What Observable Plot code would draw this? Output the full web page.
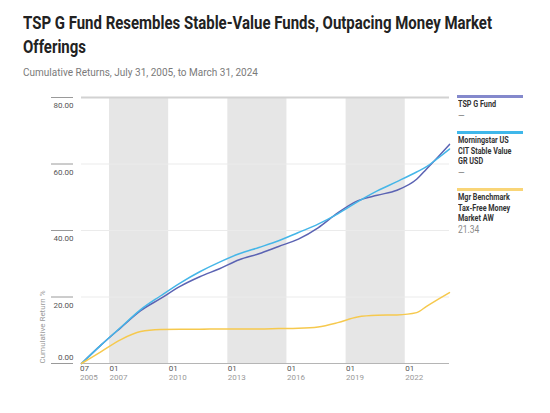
<!DOCTYPE html>
<html>
<head>
<meta charset="utf-8">
<script src="https://cdn.jsdelivr.net/npm/d3@7"></script>
<script src="https://cdn.jsdelivr.net/npm/@observablehq/plot@0.6"></script>
<style>
  html, body { margin: 0; padding: 0; background: #fff; }
  #wrap { position: relative; width: 550px; height: 413px; overflow: hidden; font-family: Roboto, "Liberation Sans", sans-serif; }
  .fit { position: absolute; white-space: nowrap; transform-origin: 0 0; }
  .t { left: 23px; font-size: 18.5px; font-weight: bold; color: #222; line-height: 20px; }
  .s { left: 23px; font-size: 11.5px; color: #7a7a7a; line-height: 14px; }
  #chart { position: absolute; left: 0; top: 85px; }
  .lg { left: 458px; font-size: 8.6px; font-weight: bold; color: #333; line-height: 10px; }
  .bar { position: absolute; left: 457px; width: 66px; height: 2.5px; }
  .val { left: 458px; font-size: 10px; color: #8a8a8a; line-height: 11px; }
</style>
</head>
<body>
<div id="wrap">
  <div class="fit t" id="t1" style="top:13px">TSP G Fund Resembles Stable-Value Funds, Outpacing Money Market</div>
  <div class="fit t" id="t2" style="top:37px">Offerings</div>
  <div class="fit s" id="sub" style="top:65px">Cumulative Returns, July 31, 2005, to March 31, 2024</div>
  <div id="chart"></div>
  <div id="legend"></div>
</div>
<script>
// ---- data ----
const dates = ["2005-07-31","2006-07-31","2007-07-31","2008-07-31","2009-07-31","2010-07-31","2011-07-31","2012-07-31","2013-07-31","2014-07-31","2015-07-31","2016-07-31","2017-07-31","2018-07-31","2019-07-31","2020-07-31","2021-07-31","2022-07-31","2023-01-31","2023-07-31","2024-03-31"];
const tspGFund    = [0, 5.6, 10.8, 15.9, 19.5, 23.2, 26.1, 28.5, 31.2, 33.0, 35.2, 37.4, 40.8, 45.3, 48.9, 50.6, 52.1, 55.4, 58.5, 61.6, 65.9];
const stableValue = [0, 5.6, 10.9, 16.2, 20.3, 24.2, 27.6, 30.5, 33.0, 34.9, 36.9, 39.4, 41.9, 45.0, 48.6, 51.9, 54.7, 57.6, 59.2, 61.4, 64.5];
const moneyMarket = [0, 3.6, 7.2, 9.6, 10.2, 10.3, 10.3, 10.4, 10.4, 10.4, 10.5, 10.6, 11.0, 12.3, 14.0, 14.5, 14.6, 15.3, 17.2, 19.0, 21.34];
const seriesNames = ["TSP G Fund", "Morningstar US CIT Stable Value GR USD", "Mgr Benchmark Tax-Free Money Market AW"];
const seriesColors = ["#5b63b3", "#45b6e8", "#f6c94e"];
const legendColors = ["#8489cc", "#3fb7ea", "#f9d577"];
const legendLines = [["TSP G Fund"], ["Morningstar US", "CIT Stable Value", "GR USD"], ["Mgr Benchmark", "Tax-Free Money", "Market AW"]];
const legendValues = ["—", "—", "21.34"];
const yTicks = [0, 20, 40, 60, 80];
const xTickDates = ["2005-07-01","2007-01-01","2010-01-01","2013-01-01","2016-01-01","2019-01-01","2022-01-01"];
const xTickMonths = ["07","01","01","01","01","01","01"];
const xTickYears = ["2005","2007","2010","2013","2016","2019","2022"];
const bandStarts = ["2007-01-01","2013-01-01","2019-01-01"];
const bandEnds   = ["2010-01-01","2016-01-01","2022-01-01"];

const parse = d3.utcParse("%Y-%m-%d");
const rows = [];
[tspGFund, stableValue, moneyMarket].forEach((vals, si) => {
  vals.forEach((v, i) => rows.push({date: parse(dates[i]), value: v, series: seriesNames[si]}));
});
const bands = bandStarts.map((s, i) => ({x1: parse(s), x2: parse(bandEnds[i])}));
const xt = xTickDates.map((d, i) => ({date: parse(d), m: xTickMonths[i], y: xTickYears[i]}));
const xDomain = [parse(dates[0]), parse(dates[dates.length - 1])];

const chart = Plot.plot({
  width: 550,
  height: 328,
  marginLeft: 81,
  marginRight: 101,
  marginTop: 12,
  marginBottom: 50,
  style: {fontFamily: "Roboto, 'Liberation Sans', sans-serif", background: "transparent"},
  x: {type: "utc", domain: xDomain, axis: null},
  y: {domain: [0, 80], axis: null},
  color: {domain: seriesNames, range: seriesColors},
  marks: [
    Plot.rect(bands, {x1: "x1", x2: "x2", y1: 0, y2: 80, fill: "#e6e6e6"}),
    Plot.ruleY([20, 40, 60], {stroke: "#ebebeb", strokeWidth: 1}),
    Plot.ruleY([80], {stroke: "#d2d2d2", strokeWidth: 2}),
    Plot.ruleY([0], {stroke: "#b5b5b5", strokeWidth: 1}),
    Plot.axisY({ticks: yTicks, tickSize: 22, dx: -8, tickFormat: () => "", stroke: "#9a9a9a", label: null}),
    Plot.text(yTicks.filter(d => d > 0), {y: d => d, text: d => d.toFixed(2), frameAnchor: "left", dx: -8, textAnchor: "end", dy: 8, fontSize: 8, fill: "#555"}),
    Plot.text(yTicks.filter(d => d === 0), {y: d => d, text: d => d.toFixed(2), frameAnchor: "left", dx: -8, textAnchor: "end", dy: -6, fontSize: 8, fill: "#555"}),
    Plot.text(["Cumulative Return %"], {frameAnchor: "bottom-left", dx: -37, rotate: -90, textAnchor: "start", fontSize: 8, fill: "#999"}),
    Plot.text(xt, {x: "date", text: "m", frameAnchor: "bottom", dy: 2, lineAnchor: "top", textAnchor: "start", fontSize: 8, fill: "#555"}),
    Plot.text(xt, {x: "date", text: "y", frameAnchor: "bottom", dy: 11, lineAnchor: "top", textAnchor: "start", fontSize: 8, fill: "#999"}),
    Plot.line(rows, {x: "date", y: "value", z: "series", stroke: "series", strokeWidth: 1.5, curve: "monotone-x"})
  ]
});
document.getElementById("chart").appendChild(chart);

// condense text horizontally to match the narrow typeface of the original
function fit(el, target) {
  const w = el.getBoundingClientRect().width;
  if (w > 0) el.style.transform = `scaleX(${target / w})`;
}
fit(document.getElementById("t1"), 469);
const k = 469 / document.getElementById("t1").scrollWidth;
document.getElementById("t2").style.transform = `scaleX(${k})`;
fit(document.getElementById("sub"), 235);

// legend (HTML, to the right of the plot)
const legend = document.getElementById("legend");
const barTops = [95, 131, 188];
let lk = null;
barTops.forEach((top, i) => {
  const bar = document.createElement("div");
  bar.className = "bar";
  bar.style.top = top + "px";
  bar.style.background = legendColors[i];
  legend.appendChild(bar);
  legendLines[i].forEach((line, j) => {
    const txt = document.createElement("div");
    txt.className = "fit lg";
    txt.style.top = (top + 4 + j * 10.7) + "px";
    txt.textContent = line;
    legend.appendChild(txt);
    if (lk === null) lk = 38 / txt.getBoundingClientRect().width;
    txt.style.transform = `scaleX(${lk})`;
  });
  const val = document.createElement("div");
  val.className = "fit val";
  val.style.top = (top + 3 + legendLines[i].length * 10.7 + 1) + "px";
  val.textContent = legendValues[i];
  legend.appendChild(val);
  val.style.transform = `scaleX(0.85)`;
});
</script>
</body>
</html>
